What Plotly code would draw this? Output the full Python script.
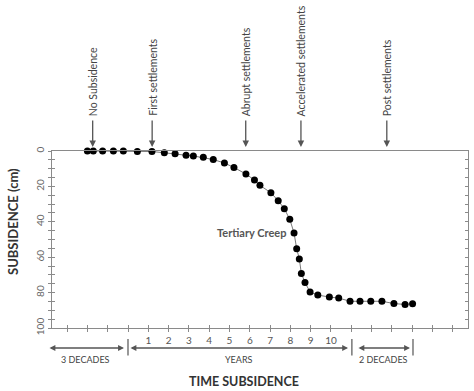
import plotly.graph_objects as go

# ---- data ----
time = [-2.0, -1.71, -1.25, -0.72, -0.23, 0.46, 1.18, 1.79, 2.32, 2.86, 3.22, 3.71,
        4.20, 4.75, 5.22, 5.81, 6.23, 6.50, 7.04, 7.40, 7.70, 7.97, 8.18, 8.31,
        8.44, 8.54, 8.72, 8.97, 9.35, 9.92, 10.38, 10.94, 11.43, 11.96, 12.51,
        13.10, 13.65, 14.02]
subsidence = [0, 0, 0, 0, 0, 0.3, 0.3, 1.0, 1.5, 2.4, 2.8, 3.6,
              4.8, 6.8, 9.3, 13.0, 16.4, 19.4, 23.6, 28.1, 32.6, 38.6, 46.3, 55.2,
              61.0, 69.2, 74.3, 79.7, 81.4, 82.5, 83.1, 84.9, 84.9, 84.9, 84.9,
              86.2, 86.7, 86.3]

phase_labels = ["No Subsidence", "First settlements", "Abrupt settlements",
                "Accelerated settlements", "Post settlements"]
phase_x = [-1.74, 1.19, 5.80, 8.52, 12.75]

period_labels = ["3 DECADES", "YEARS", "2 DECADES"]
period_start = [-3.94, 0.05, 11.28]
period_end = [-0.20, 10.84, 13.89]
period_bars = [0.0, 11.03, 14.04]

x_ticks = list(range(-3, 17))
x_ticktext = [str(v) if 1 <= v <= 10 else "" for v in x_ticks]
y_ticks = list(range(0, 101, 5))
y_ticktext = [str(v) if v % 20 == 0 else "" for v in y_ticks]

XR = [-3.744, 16.75]
YR = [100, 0]
AX = "#8a8a8a"
TXT = "#444444"
FONT = "Lato"

W, H = 474, 391
ML, MR, MT, MB = 52, 6, 151, 63
PW, PH = W - ML - MR, H - MT - MB
XS = PW / (XR[1] - XR[0])          # pixels per x unit


def xp(v):          # x data -> paper
    return (v - XR[0]) / (XR[1] - XR[0])


def yp_px(py):      # pixel row -> paper y
    return (H - MB - py) / PH


def xp_px(px):      # pixel column -> paper x
    return (px - ML) / PW


fig = go.Figure()
fig.add_trace(go.Scatter(
    x=time, y=subsidence, mode="lines+markers",
    line=dict(color="#7a7a7a", width=1),
    marker=dict(color="black", size=7),
    cliponaxis=False, showlegend=False, hoverinfo="skip"))
fig.add_trace(go.Scatter(x=[None], y=[None], xaxis="x2", yaxis="y2",
                         showlegend=False, hoverinfo="skip"))

fig.update_layout(
    width=W, height=H,
    margin=dict(l=ML, r=MR, t=MT, b=MB, autoexpand=False),
    paper_bgcolor="white", plot_bgcolor="white",
    font=dict(family=FONT, color=TXT),
    xaxis=dict(range=XR, tickmode="array", tickvals=x_ticks, ticktext=x_ticktext,
               ticks="outside", ticklen=3, tickcolor=AX, tickwidth=1,
               showline=True, linecolor=AX, linewidth=1, mirror=True,
               showgrid=False, zeroline=False,
               tickfont=dict(size=10, color="#555555", family=FONT)),
    yaxis=dict(range=YR, tickmode="array", tickvals=y_ticks, ticktext=y_ticktext,
               ticks="outside", ticklen=3, tickcolor=AX, tickwidth=1,
               showline=True, linecolor=AX, linewidth=1,
               showgrid=False, zeroline=False, tickangle=-90,
               tickfont=dict(size=10, color="#666666", family=FONT)),
    xaxis2=dict(range=XR, overlaying="x", anchor="y2", tickmode="array",
                tickvals=x_ticks, ticks="inside", ticklen=3, tickcolor=AX,
                showticklabels=False, showline=False, showgrid=False, zeroline=False),
    yaxis2=dict(range=YR, overlaying="y", anchor="x2", tickmode="array",
                tickvals=y_ticks, ticks="inside", ticklen=3, tickcolor=AX,
                mirror="ticks", showline=True, linecolor=AX,
                showticklabels=False, showgrid=False, zeroline=False),
)

# y title
fig.add_annotation(text="<b>SUBSIDENCE (cm)</b>", xref="paper", yref="paper",
                   x=xp_px(13), y=yp_px(222), xanchor="center", yanchor="middle",
                   textangle=-90, showarrow=False,
                   font=dict(size=13, color="#333333", family=FONT))
# x title
fig.add_annotation(text="<b>TIME SUBSIDENCE</b>", xref="paper", yref="paper",
                   x=xp_px(244), y=yp_px(381), xanchor="center", yanchor="middle",
                   showarrow=False,
                   font=dict(size=12.5, color="#333333", family=FONT))

# phase labels + arrows
for lab, xv in zip(phase_labels, phase_x):
    fig.add_annotation(text=lab, x=xp(xv), y=yp_px(118), xref="paper", yref="paper",
                       textangle=-90, yanchor="bottom", xanchor="center",
                       showarrow=False, font=dict(size=10.5, color=TXT, family=FONT))
    fig.add_annotation(text="", x=xp(xv), y=yp_px(147), ax=0, ay=-28,
                       xref="paper", yref="paper", axref="pixel", ayref="pixel",
                       showarrow=True, arrowhead=2, arrowsize=1, arrowwidth=1.3,
                       arrowcolor="#555555")

fig.add_annotation(text="<b>Tertiary Creep</b>", x=6.06, y=46.3, xref="x", yref="y",
                   xanchor="center", yanchor="middle",
                   showarrow=False, font=dict(size=11, color="#555555", family=FONT))

# period arrows
for lab, s, e in zip(period_labels, period_start, period_end):
    fig.add_annotation(text="", x=xp(e), y=yp_px(348), ax=-(e - s) * XS, ay=0,
                       xref="paper", yref="paper", axref="pixel", ayref="pixel",
                       showarrow=True, arrowhead=2, startarrowhead=2,
                       arrowside="end+start", arrowsize=0.9, arrowwidth=1.3,
                       arrowcolor="#555555")
    fig.add_annotation(text=lab, x=xp((s + e) / 2), y=yp_px(359),
                       xref="paper", yref="paper", xanchor="center", yanchor="middle",
                       showarrow=False, font=dict(size=9, color=TXT, family=FONT))
for b in period_bars:
    fig.add_annotation(text="", x=xp(b), y=yp_px(339), ax=0, ay=18,
                       xref="paper", yref="paper", axref="pixel", ayref="pixel",
                       showarrow=True, arrowhead=0, arrowwidth=1.2,
                       arrowcolor="#555555")

fig.write_html("out.html", config={"displayModeBar": False},
               post_script="document.body.style.margin='0';")
